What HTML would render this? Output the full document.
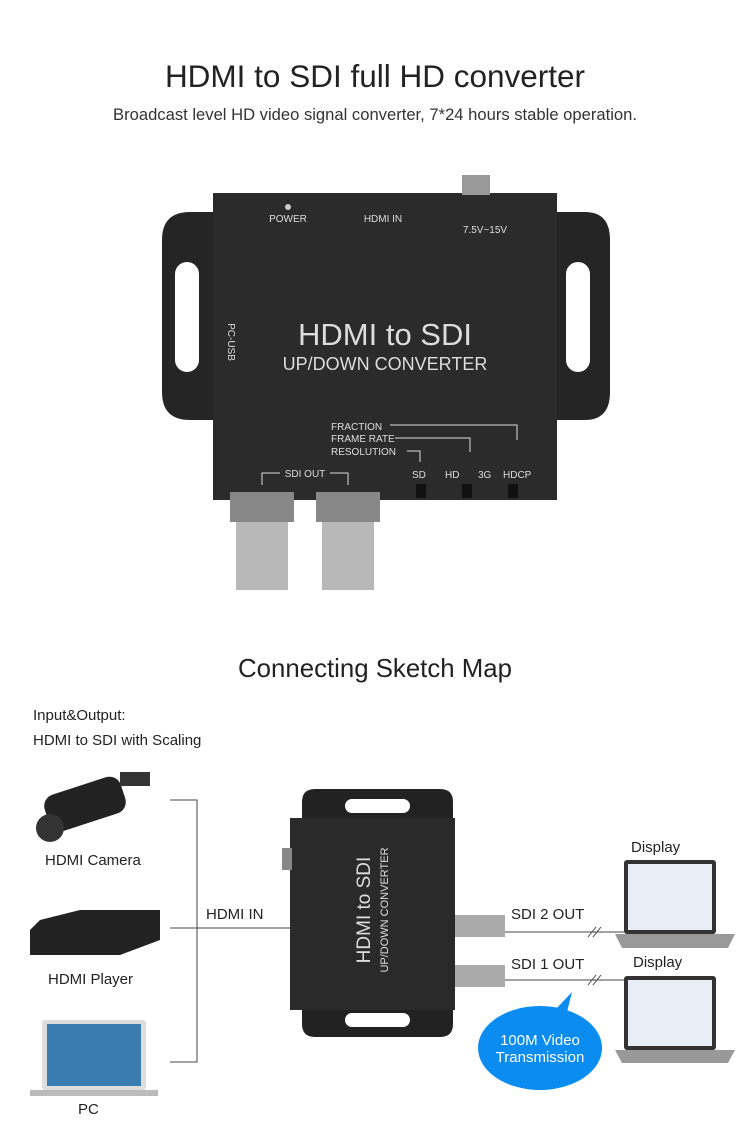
<!DOCTYPE html>
<html><head><meta charset="utf-8">
<style>
body{margin:0;width:750px;height:1141px;background:#fff;position:relative;overflow:hidden;font-family:"Liberation Sans",sans-serif;color:#222}
.t{position:absolute;white-space:nowrap}
</style></head><body>
<div class="t" style="left:0;width:750px;top:58px;text-align:center;font-size:31.5px;color:#222">HDMI to SDI full HD converter</div>
<div class="t" style="left:0;width:750px;top:105px;text-align:center;font-size:16.6px;color:#333">Broadcast level HD video signal converter, 7*24 hours stable operation.</div>

<svg style="position:absolute;left:0;top:0" width="750" height="1141" font-family="Liberation Sans,sans-serif">
<path d="M190 212 H585 Q610 212 610 240 V392 Q610 420 585 420 H190 Q162 420 162 392 V240 Q162 212 190 212Z" fill="#252525"/>
<rect x="175" y="262" width="24" height="110" rx="12" fill="#fff"/>
<rect x="566" y="262" width="24" height="110" rx="12" fill="#fff"/>
<rect x="213" y="193" width="344" height="307" fill="#2b2b2b"/>
<rect x="462" y="175" width="28" height="20" fill="#999"/>
<circle cx="288" cy="207" r="3" fill="#ccc"/>
<text x="288" y="222" font-size="10" fill="#ddd" text-anchor="middle">POWER</text>
<text x="383" y="222" font-size="10" fill="#ddd" text-anchor="middle">HDMI IN</text>
<text x="485" y="233" font-size="10" fill="#ddd" text-anchor="middle">7.5V~15V</text>
<text x="385" y="345" font-size="31" fill="#ddd" text-anchor="middle">HDMI to SDI</text>
<text x="385" y="370" font-size="18" fill="#ddd" text-anchor="middle">UP/DOWN CONVERTER</text>
<text x="228" y="342" font-size="10" fill="#ddd" transform="rotate(90 228 342)" text-anchor="middle">PC-USB</text>
<text x="331" y="430" font-size="10" fill="#ddd">FRACTION</text>
<text x="331" y="442" font-size="10" fill="#ddd">FRAME RATE</text>
<text x="331" y="455" font-size="10" fill="#ddd">RESOLUTION</text>
<path d="M390 425H517V440M395 438H470V452M407 451H420V462" stroke="#ddd" fill="none"/>
<text x="412" y="478" font-size="10" fill="#ddd">SD</text><text x="445" y="478" font-size="10" fill="#ddd">HD</text>
<text x="478" y="478" font-size="10" fill="#ddd">3G</text><text x="503" y="478" font-size="10" fill="#ddd">HDCP</text>
<g fill="#111"><rect x="416" y="484" width="10" height="14"/><rect x="462" y="484" width="10" height="14"/><rect x="508" y="484" width="10" height="14"/></g>
<text x="305" y="477" font-size="10" fill="#ddd" text-anchor="middle">SDI OUT</text>
<path d="M262 485V473H280M330 473H348V485" stroke="#ddd" fill="none"/>
<rect x="230" y="492" width="64" height="30" fill="#888"/><rect x="316" y="492" width="64" height="30" fill="#888"/>
<rect x="236" y="522" width="52" height="68" fill="#b8b8b8"/><rect x="322" y="522" width="52" height="68" fill="#b8b8b8"/>
<path d="M170 800H197V1062H170M170 928H290" stroke="#444" fill="none"/>
<rect x="45" y="785" width="80" height="38" rx="12" fill="#222" transform="rotate(-18 85 804)"/>
<circle cx="50" cy="828" r="14" fill="#333"/>
<rect x="120" y="772" width="30" height="14" fill="#333"/>
<path d="M40 920L80 910H160V940L120 955H30V930Z" fill="#222"/>
<rect x="42" y="1020" width="104" height="70" rx="3" fill="#ddd"/>
<rect x="47" y="1024" width="94" height="62" fill="#3a7cb0"/>
<rect x="30" y="1090" width="128" height="6" fill="#bbb"/>
<path d="M315 789H440Q453 789 453 802V1024Q453 1037 440 1037H315Q302 1037 302 1024V802Q302 789 315 789Z" fill="#222"/>
<rect x="345" y="799" width="65" height="14" rx="7" fill="#fff"/>
<rect x="345" y="1013" width="65" height="14" rx="7" fill="#fff"/>
<rect x="290" y="818" width="165" height="192" fill="#2a2a2a"/>
<rect x="282" y="848" width="10" height="22" fill="#888"/>
<text x="370" y="910" font-size="19" fill="#ddd" text-anchor="middle" transform="rotate(-90 370 910)">HDMI to SDI</text>
<text x="388" y="910" font-size="11" fill="#ddd" text-anchor="middle" transform="rotate(-90 388 910)">UP/DOWN CONVERTER</text>
<rect x="455" y="915" width="50" height="22" fill="#aaa"/><rect x="455" y="965" width="50" height="22" fill="#aaa"/>
<path d="M505 932H625M505 980H625" stroke="#444"/>
<path d="M588 937L596 927M593 937L601 927M588 985L596 975M593 985L601 975" stroke="#444"/>
<rect x="624" y="860" width="92" height="74" rx="3" fill="#333"/><rect x="628" y="864" width="84" height="66" fill="#e8eef5"/>
<path d="M615 934H735L728 948H622Z" fill="#999"/>
<rect x="624" y="976" width="92" height="74" rx="3" fill="#333"/><rect x="628" y="980" width="84" height="66" fill="#e8eef5"/>
<path d="M615 1050H735L728 1063H622Z" fill="#999"/>
<path d="M555 1010L572 992L565 1020Z" fill="#0a8cf0"/>
<ellipse cx="540" cy="1048" rx="62" ry="42" fill="#0a8cf0"/>
<text x="540" y="1045" font-size="15" fill="#fff" text-anchor="middle">100M Video</text>
<text x="540" y="1062" font-size="15" fill="#fff" text-anchor="middle">Transmission</text>
</svg>

<div class="t" style="left:0;width:750px;top:655px;text-align:center;font-size:25.8px">Connecting Sketch Map</div>
<div class="t" style="left:33px;top:707px;font-size:15px">Input&amp;Output:</div>
<div class="t" style="left:33px;top:732px;font-size:15px">HDMI to SDI with Scaling</div>
<div class="t" style="left:45px;top:852px;font-size:15px">HDMI Camera</div>
<div class="t" style="left:48px;top:971px;font-size:15px">HDMI Player</div>
<div class="t" style="left:78px;top:1101px;font-size:15px">PC</div>
<div class="t" style="left:206px;top:906px;font-size:15px">HDMI IN</div>
<div class="t" style="left:511px;top:906px;font-size:15px">SDI 2 OUT</div>
<div class="t" style="left:511px;top:956px;font-size:15px">SDI 1 OUT</div>
<div class="t" style="left:631px;top:839px;font-size:15px">Display</div>
<div class="t" style="left:633px;top:954px;font-size:15px">Display</div>
</body></html>
